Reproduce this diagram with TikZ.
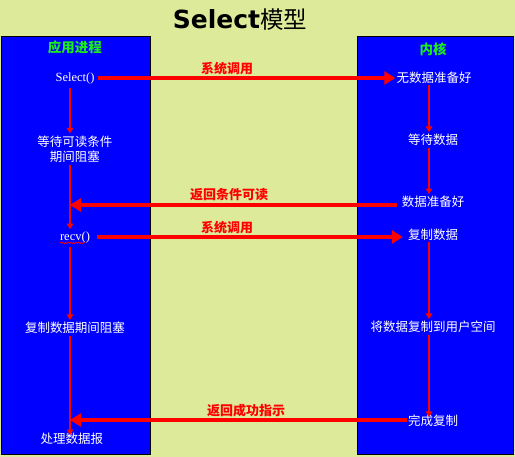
\documentclass[tikz,border=0pt]{standalone}
\usepackage{fontspec}
\newfontfamily\cjk{Noto Sans CJK SC}
\newfontfamily\lser{Liberation Serif}
\newfontfamily\titlef{DejaVu Sans}
\usetikzlibrary{arrows.meta,decorations.pathmorphing}
\definecolor{bgc}{RGB}{221,234,154}
\definecolor{boxblue}{RGB}{0,0,255}
\definecolor{hdrgreen}{RGB}{30,235,30}
\definecolor{arrred}{RGB}{255,0,0}
\tikzset{
  panel/.style={draw=black, line width=0.8pt, fill=boxblue, anchor=north west, inner sep=0pt},
  wtxt/.style={text=white, font=\cjk\fontsize{12.5}{15}\selectfont, inner sep=1pt, align=center},
  ltxt/.style={text=white, font=\lser\fontsize{12.5}{15}\selectfont, inner sep=1pt},
  hdr/.style={text=hdrgreen, font=\cjk\bfseries\fontsize{13.5}{16}\selectfont, inner sep=1pt},
  lbl/.style={text=arrred, font=\cjk\bfseries\fontsize{13}{15}\selectfont, inner sep=1pt},
  bigarrow/.style={draw=arrred, line width=3.6pt, -{Triangle[length=11pt,width=13pt]}},
  thinarrow/.style={draw=arrred, line width=1.8pt, -{Triangle[length=5.5pt,width=6.5pt]}},
}
\begin{document}
\begin{tikzpicture}[x=1pt,y=-1pt]
\fill[bgc] (0,0) rectangle (515,457);
\useasboundingbox (0,0) rectangle (515,457);
% title
\node (title) at (240,20) {\titlef\bfseries\fontsize{25}{28}\selectfont Select\cjk\mdseries\fontsize{23.5}{26}\selectfont 模型};
% panels
\node[panel, minimum width=149pt, minimum height=418pt] (app) at (1,36) {};
\node[panel, minimum width=156pt, minimum height=418pt] (kern) at (357,36) {};
\node[hdr] (apph) at (75,47) {应用进程};
\node[hdr] (kernh) at (433,49) {内核};
% line x positions
\coordinate (lx) at (70,0);
\coordinate (rx) at (429,0);
% left column
\node[ltxt] (sel) at (75,78) {Select()};
\node[wtxt] (waitr) at (75,149) {等待可读条件\\期间阻塞};
\node[ltxt] (recv) at (75,237) {recv()};
\node[wtxt] (cpblk) at (75,328) {复制数据期间阻塞};
\node[wtxt] (proc) at (72,439) {处理数据报};
% right column
\node[wtxt] (nodata) at (434,78) {无数据准备好};
\node[wtxt] (waitd) at (433,140) {等待数据};
\node[wtxt] (ready) at (433,202) {数据准备好};
\node[wtxt] (copyd) at (433,235) {复制数据};
\node[wtxt] (tousr) at (433,327) {将数据复制到用户空间};
\node[wtxt] (done) at (433,421) {完成复制};
% arrow labels
\node[lbl] (l1) at (227,69) {系统调用};
\node[lbl] (l2) at (229,195) {返回条件可读};
\node[lbl] (l3) at (227,228) {系统调用};
\node[lbl] (l4) at (246,411) {返回成功指示};
% helper coordinates on the left line
\coordinate (back1) at (70,205);
\coordinate (back2) at (70,420);
% vertical arrows left
\draw[thinarrow] ([yshift=-3pt]sel.south -| lx) -- ([yshift=1pt]waitr.north -| lx);
\draw[thinarrow] ([yshift=-1pt]waitr.south -| lx) -- ([yshift=1pt]recv.north -| lx);
\draw[thinarrow] ([yshift=-3pt]recv.south -| lx) -- ([yshift=1pt]cpblk.north -| lx);
\draw[thinarrow] ([yshift=-1pt]cpblk.south -| lx) -- ([yshift=-3pt]proc.north -| lx);
% vertical arrows right
\draw[thinarrow] (nodata.south -| rx) -- ([yshift=1pt]waitd.north -| rx);
\draw[thinarrow] ([yshift=-1pt]waitd.south -| rx) -- ([yshift=1pt]ready.north -| rx);
\draw[thinarrow] (copyd.south -| rx) -- ([yshift=1pt]tousr.north -| rx);
\draw[thinarrow] ([yshift=-1pt]tousr.south -| rx) -- ([yshift=-3pt]done.north -| rx);
% horizontal arrows
\draw[bigarrow] ([xshift=2pt]sel.east) -- (nodata.west);
\draw[bigarrow] ([xshift=-4pt]ready.west |- back1) -- (back1);
\draw[bigarrow] ([xshift=6pt]recv.east) -- ([xshift=-4pt]copyd.west |- recv.east);
\draw[bigarrow] (done.west |- back2) -- (back2);
% spell-check squiggle under recv
\draw[arrred, line width=0.6pt, decorate, decoration={zigzag, amplitude=0.8pt, segment length=2.6pt}]
  ([xshift=1pt,yshift=1pt]recv.south west) -- ([xshift=-6pt,yshift=1pt]recv.south east);
\end{tikzpicture}
\end{document}
